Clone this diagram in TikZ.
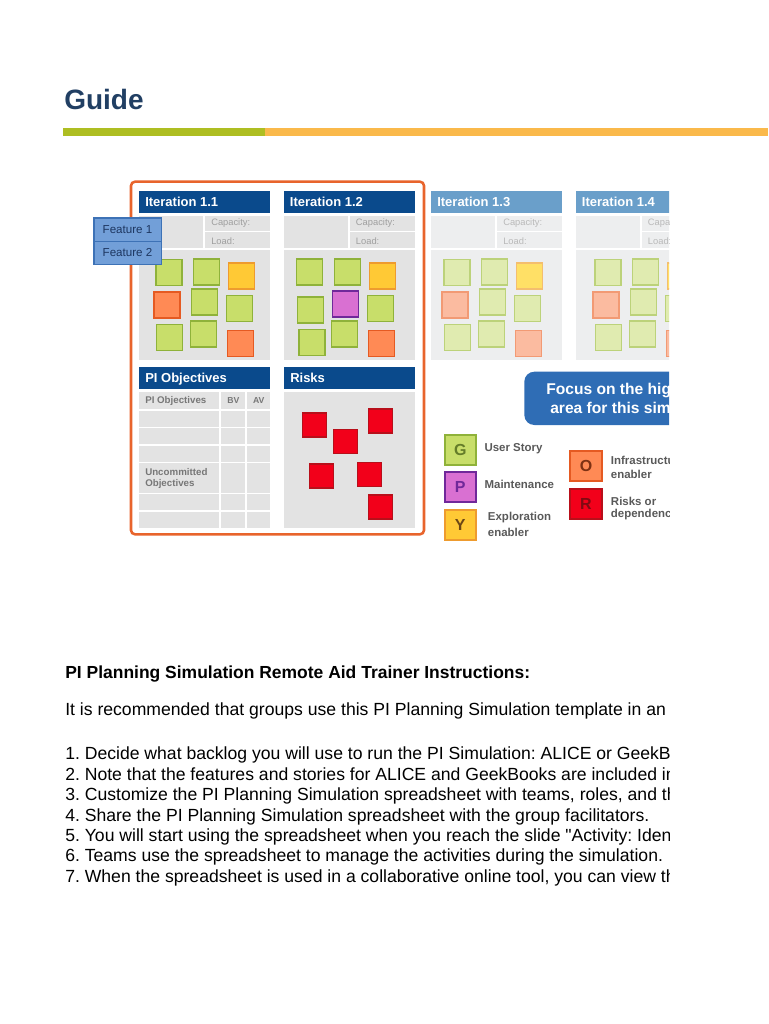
\documentclass[tikz,border=0pt]{standalone}
\usepackage{fontspec}
\setmainfont{Liberation Sans}[Ligatures=TeXOff]
\frenchspacing
\definecolor{navy}{HTML}{213F63}
\definecolor{barG}{HTML}{AEBE22}
\definecolor{barO}{HTML}{FAB94B}
\definecolor{hdrD}{HTML}{0A4A8C}
\definecolor{hdrL}{HTML}{6A9FCA}
\definecolor{cellD}{HTML}{E3E3E3}
\definecolor{cellL}{HTML}{EDEEEF}
\definecolor{frameO}{HTML}{E8642C}
\definecolor{featF}{HTML}{729FD8}
\definecolor{featB}{HTML}{3D72B6}
\definecolor{featT}{HTML}{1D3660}
\definecolor{gF}{HTML}{C8DE6A}
\definecolor{gB}{HTML}{8FB23A}
\definecolor{yF}{HTML}{FFC935}
\definecolor{yB}{HTML}{EE9B2E}
\definecolor{oF}{HTML}{FF8A55}
\definecolor{oB}{HTML}{E55A22}
\definecolor{pF}{HTML}{D970D2}
\definecolor{pB}{HTML}{70289A}
\definecolor{lgF}{HTML}{E0EBB0}
\definecolor{lgB}{HTML}{BCD27A}
\definecolor{lyF}{HTML}{FFE066}
\definecolor{lyB}{HTML}{F4BE6E}
\definecolor{loF}{HTML}{FBBBA0}
\definecolor{loB}{HTML}{F29A74}
\definecolor{rF}{HTML}{F2001A}
\definecolor{rB}{HTML}{B80F1A}
\definecolor{focus}{HTML}{2F6DB5}
\definecolor{lbl}{HTML}{595959}
\definecolor{tbl}{HTML}{777777}
\newcommand\iterpanel[6]{%
\begin{scope}[shift={(#1,0)}]
\fill[#2] (0,190.7) rectangle (131,212.7);
\node[hdrtxt] (#6h) at (6,206.7) {#4};
\fill[#3] (0,215.7) rectangle (64.2,247.7);
\fill[#3] (66.4,215.7) rectangle (131,231);
\fill[#3] (66.4,232.3) rectangle (131,247.7);
\fill[#3] (0,250) rectangle (131,360);
\node[captxt,text=#5] (#6c) at (72,223.3) {Capacity:};
\node[captxt,text=#5] (#6l) at (72,240.7) {Load:};
\end{scope}}
\newcommand\stk[4]{\node[stkbox,#1] (#2) at (#3,#4) {};}
\newcommand\layA[5]{%
\stk{#3}{#2a}{169+#1}{272.5}
\stk{#3}{#2b}{206.5+#1}{272}
\stk{#4}{#2c}{241.5+#1}{276}
\stk{#5}{#2d}{167+#1}{305}
\stk{#3}{#2e}{204.5+#1}{302}
\stk{#3}{#2f}{239.5+#1}{308.5}
\stk{#3}{#2g}{169.5+#1}{337.5}
\stk{#3}{#2h}{203.5+#1}{334}
\stk{#5}{#2i}{240.5+#1}{343.5}}
\begin{document}
\begin{tikzpicture}[x=0.75pt,y=-0.75pt,
  hdrtxt/.style={anchor=base west,inner sep=0,text=white,font=\fontsize{9.75pt}{11pt}\selectfont\bfseries},
  captxt/.style={anchor=west,inner sep=0,font=\fontsize{7pt}{8pt}\selectfont},
  stkbox/.style={minimum size=19.6pt,inner sep=0,line width=1.1pt,draw},
  sg/.style={fill=gF,draw=gB}, sy/.style={fill=yF,draw=yB}, so/.style={fill=oF,draw=oB},
  sp/.style={fill=pF,draw=pB}, lg/.style={fill=lgF,draw=lgB}, ly/.style={fill=lyF,draw=lyB},
  lo/.style={fill=loF,draw=loB}, rsk/.style={fill=rF,draw=rB,minimum size=18pt,inner sep=0,line width=0.8pt},
  feat/.style={fill=featF,draw=featB,line width=1pt,minimum width=50.5pt,minimum height=17.5pt,inner sep=0,text=featT,font=\fontsize{8.7pt}{10pt}\selectfont},
  tbltxt/.style={inner sep=0,text=tbl,font=\fontsize{7.3pt}{8.5pt}\selectfont\bfseries},
  legbox/.style={minimum width=23.5pt,minimum height=22.5pt,inner sep=0,line width=1.5pt,draw,font=\fontsize{12pt}{14pt}\selectfont\bfseries},
  legtxt/.style={anchor=west,inner sep=0,text=lbl,font=\fontsize{8.6pt}{10pt}\selectfont\bfseries},
  body/.style={anchor=base west,inner sep=0,font=\fontsize{13.2pt}{15pt}\selectfont}]
\useasboundingbox (0,0) rectangle (768,1024);
% title and bar
\node[anchor=base west,inner sep=0,text=navy,font=\fontsize{21pt}{24pt}\selectfont\bfseries] (title) at (64,109) {Guide};
\fill[barG] (63.3,128.3) rectangle (265,136);
\fill[barO] (265,128.3) rectangle (768,136);
\begin{scope}
\clip (0,0) rectangle (669,1024);
% frame
\draw[frameO,line width=1.9pt,rounded corners=3pt] (131,181.7) rectangle (424,534.3);
% iteration panels
\iterpanel{139}{hdrD}{cellD}{Iteration 1.1}{gray!75}{i1}
\iterpanel{283.7}{hdrD}{cellD}{Iteration 1.2}{gray!75}{i2}
\iterpanel{431}{hdrL}{cellL}{Iteration 1.3}{gray!55}{i3}
\iterpanel{575.7}{hdrL}{cellL}{Iteration 1.4}{gray!55}{i4}
% stickies
\layA{0}{a}{sg}{sy}{so}
\layA{288}{c}{lg}{ly}{lo}
\layA{439}{d}{lg}{ly}{lo}
\stk{sg}{b1}{309.5}{272}
\stk{sg}{b2}{347.5}{272}
\stk{sy}{b3}{382.5}{276}
\stk{sg}{b4}{310.5}{310}
\stk{sp}{b5}{345.5}{304}
\stk{sg}{b6}{380.5}{308.5}
\stk{sg}{b7}{312}{342.5}
\stk{sg}{b8}{344.5}{334}
\stk{so}{b9}{381.5}{343.5}
% features
\node[feat] (f1) at (127.5,229.5) {Feature 1};
\node[feat] (f2) at (127.5,253) {Feature 2};
% PI objectives
\fill[hdrD] (139,366.7) rectangle (270,389.3);
\node[hdrtxt] (pih) at (145,382.7) {PI Objectives};
\foreach \ya/\yb in {392.3/409.3,410.7/426.7,428.3/444.3,446/461.7,463.3/492.7,494/510,511.7/527.7}{
  \fill[cellD] (139,\ya) rectangle (219.3,\yb);
  \fill[cellD] (220.7,\ya) rectangle (245.3,\yb);
  \fill[cellD] (246.7,\ya) rectangle (270,\yb);}
\node[tbltxt,anchor=west] (t1) at (145,400.7) {PI Objectives};
\node[tbltxt,font=\fontsize{6.5pt}{8pt}\selectfont\bfseries] (t2) at (233.3,400.7) {BV};
\node[tbltxt,font=\fontsize{6.5pt}{8pt}\selectfont\bfseries] (t3) at (258.7,400.7) {AV};
\node[tbltxt,anchor=west] (t4) at (145,472.3) {Uncommitted};
\node[tbltxt,anchor=west] (t5) at (145,484.3) {Objectives};
% risks
\fill[hdrD] (284,366.7) rectangle (415,389.3);
\node[hdrtxt] (rh) at (290,382.7) {Risks};
\fill[cellD] (284,391.7) rectangle (415,527.7);
\node[rsk] (r1) at (314.5,425) {};
\node[rsk] (r2) at (345.5,441.5) {};
\node[rsk] (r3) at (380.5,421) {};
\node[rsk] (r4) at (321.5,476) {};
\node[rsk] (r5) at (369.5,474.5) {};
\node[rsk] (r6) at (380.5,507) {};
% focus box
\fill[focus,rounded corners=7.5pt] (524.3,371.7) rectangle (740,425);
\node[anchor=west,inner sep=0,text=white,font=\fontsize{11.7pt}{13pt}\selectfont\bfseries] (fc1) at (546,390) {Focus on the highlighted};
\node[anchor=west,inner sep=0,text=white,font=\fontsize{11.7pt}{13pt}\selectfont\bfseries] (fc2) at (550,408) {area for this simulation};
% legend
\node[legbox,fill=gF,draw=gB,text=gB!70!black] (lg) at (460.3,449.5) {G};
\node[legbox,fill=pF,draw=pB,text=pB] (lp) at (460.3,486.8) {P};
\node[legbox,fill=yF,draw=yB,text=yB!45!black] (ly) at (460.3,525.2) {Y};
\node[legbox,fill=oF,draw=oB,text=oB!55!black] (lo) at (586,466.3) {O};
\node[legbox,fill=rF,draw=rB,text=rB!70!black] (lr) at (586,503.5) {R};
\node[legtxt] (lgt) at (484.3,448.3) {User Story};
\node[legtxt] (lpt) at (484.3,484.3) {Maintenance};
\node[legtxt] (lyt1) at (487.7,517.7) {Exploration};
\node[legtxt] (lyt2) at (487.7,532) {enabler};
\node[legtxt] (lot1) at (610.7,460) {Infrastructure};
\node[legtxt] (lot2) at (610.7,474.3) {enabler};
\node[legtxt] (lrt1) at (610.7,501) {Risks or};
\node[legtxt] (lrt2) at (610.7,515) {dependencies};
% instructions
\node[body,font=\fontsize{13.1pt}{15pt}\selectfont\bfseries] (h) at (65,678.3) {PI Planning Simulation Remote Aid Trainer Instructions:};
\node[body] (p0) at (65,715) {It is recommended that groups use this PI Planning Simulation template in an online};
\node[body] (p1) at (65,759.3) {1. Decide what backlog you will use to run the PI Simulation: ALICE or GeekBooks};
\node[body] (p2) at (65,780) {2. Note that the features and stories for ALICE and GeekBooks are included in};
\node[body] (p3) at (65,800.5) {3. Customize the PI Planning Simulation spreadsheet with teams, roles, and the};
\node[body] (p4) at (65,821) {4. Share the PI Planning Simulation spreadsheet with the group facilitators.};
\node[body] (p5) at (65,841.5) {5. You will start using the spreadsheet when you reach the slide "Activity: Identify};
\node[body] (p6) at (65,861.8) {6. Teams use the spreadsheet to manage the activities during the simulation.};
\node[body] (p7) at (65,882) {7. When the spreadsheet is used in a collaborative online tool, you can view the};
\end{scope}
\end{tikzpicture}
\end{document}
